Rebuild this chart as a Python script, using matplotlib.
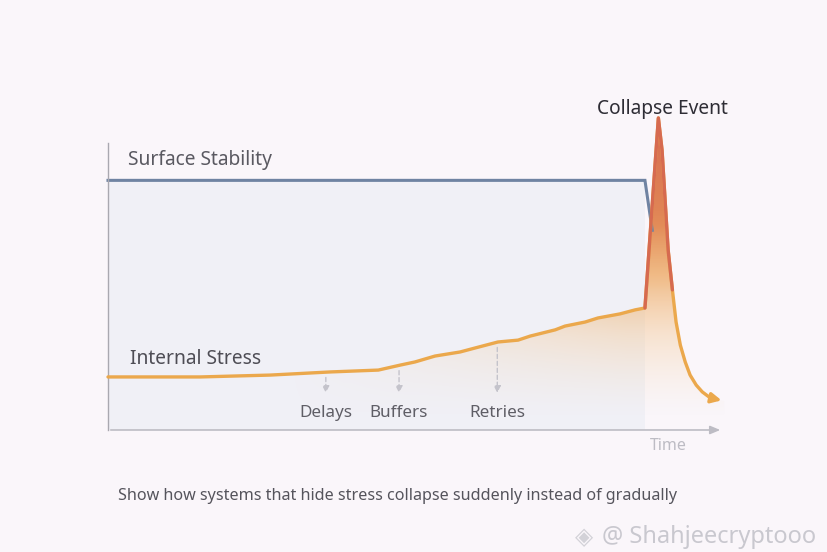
import numpy as np
import matplotlib
matplotlib.use("Agg")
import matplotlib.pyplot as plt
from matplotlib.patches import Polygon
from matplotlib.colors import to_rgb

plt.rcParams['font.family'] = ['Noto Sans', 'DejaVu Sans']

# ---- data (time 0..100, level 0..100) ----
stability_t = [0, 88.0, 89.2]
stability_v = [80, 80, 64]

stress_t = [0, 15.1, 26.6, 36.4, 44.3, 47.9, 50.3, 53.6, 57.7, 60.2, 63.9, 67.2,
            69.2, 73.3, 74.9, 78.2, 80.3, 83.9, 86.4, 88.0, 90.2, 90.8, 91.3,
            91.8, 92.5, 93.1, 93.8, 94.6, 95.4, 96.4, 97.4, 98.7, 101.0]
stress_v = [17.0, 17.0, 17.6, 18.6, 19.2, 20.8, 21.8, 23.7, 25.0, 26.3, 28.2, 28.8,
            30.1, 32.1, 33.3, 34.6, 35.9, 37.2, 38.5, 39.1, 100, 89.7, 73.7,
            57.7, 44.9, 34.6, 27.2, 21.8, 17.6, 14.4, 12.2, 10.3, 9.3]
peak_idx = 20

markers = ["Delays", "Buffers", "Retries"]
marker_t = [35.7, 47.7, 63.8]

BG = '#faf6fa'
BLUE = '#6f83a2'
ORANGE = '#eba84c'
RED = '#d66a50'
GRAY = '#c4c3cb'

fig = plt.figure(figsize=(8.28, 5.52), dpi=100, facecolor=BG)
ax = fig.add_axes([0, 0, 1, 1])
ax.set_facecolor(BG)
ax.set_xlim(-17.7, 118.0)
ax.set_ylim(-39.1, 137.8)
ax.axis('off')

# pale region under surface stability
ax.fill_between(stability_t[:2], stability_v[:2], 0, color='#f0f0f6', lw=0, zorder=1)

# gradient under internal stress
ts = np.array(stress_t)
vs = np.array(stress_v)
ny, nx = 300, 400
gx = np.linspace(0, 102, nx)
gy = np.linspace(0, 100, ny)
GX, GY = np.meshgrid(gx, gy)
stops_v = [0, 30, 50, 70, 100]
stops_c = [to_rgb('#f8dcbb'), to_rgb('#f4c690'), to_rgb('#eda862'),
           to_rgb('#e08556'), to_rgb(RED)]
img = np.zeros((ny, nx, 4))
for k in range(3):
    img[..., k] = np.interp(GY, stops_v, [c[k] for c in stops_c])
alpha = np.clip((GY - 4) / 42, 0, 1) ** 1.2
alpha *= np.clip((GX - 30) / 55, 0, 1) ** 0.8 * 0.7 + np.clip((GY - 45) / 20, 0, 1) * 0.3
img[..., 3] = np.clip(alpha, 0, 1)
poly = Polygon(list(zip(ts, vs)) + [(ts[-1], 0), (0, 0)], closed=True,
               transform=ax.transData, facecolor='none', edgecolor='none')
ax.add_patch(poly)
im = ax.imshow(img, extent=(0, 102, 0, 100), origin='lower', aspect='auto',
               zorder=2, interpolation='bilinear')
im.set_clip_path(poly)

# stability line
ax.plot(stability_t, stability_v, color=BLUE, lw=2.2, zorder=3,
        solid_joinstyle='miter')

# stress line: orange body, red spike
ax.plot(ts[:-1], vs[:-1], color=ORANGE, lw=2.4, zorder=4,
        solid_joinstyle='round', solid_capstyle='round')
ax.plot(ts[peak_idx - 1:peak_idx + 5], vs[peak_idx - 1:peak_idx + 5], color=RED,
        lw=2.4, zorder=4, solid_joinstyle='round', solid_capstyle='round')
ax.annotate('', xy=(ts[-1], vs[-1]), xytext=(ts[-2], vs[-2]),
            arrowprops=dict(arrowstyle='-|>,head_length=0.6,head_width=0.3',
                            color=ORANGE, lw=2.4), zorder=4)

# axes
ax.plot([0, 0], [0, 92], color='#a9a8b0', lw=1.0, zorder=3)
ax.annotate('', xy=(100.8, 0), xytext=(0, 0),
            arrowprops=dict(arrowstyle='-|>,head_length=0.6,head_width=0.25',
                            color='#bdbcc4', lw=1.2), zorder=3)
ax.text(91.8, -5.0, 'Time', color='#bdbcc4', fontsize=11.5, ha='center', va='center')

# marker annotations
for name, t in zip(markers, marker_t):
    v0 = np.interp(t, ts, vs)
    ax.annotate('', xy=(t, 11.0), xytext=(t, v0 - 0.8),
                arrowprops=dict(arrowstyle='-|>,head_length=0.4,head_width=0.2',
                                color=GRAY, lw=1.0, linestyle=(0, (3, 2))), zorder=3)
    ax.text(t, 5.4, name, color='#5f5e66', fontsize=12.3, ha='center', va='center')

# labels
ax.text(3.3, 86.4, 'Surface Stability', color='#5a5961', fontsize=13.8,
        ha='left', va='center')
ax.text(3.6, 22.6, 'Internal Stress', color='#4e4d55', fontsize=13.8,
        ha='left', va='center')
ax.text(90.8, 102.8, 'Collapse Event', color='#2e2d35', fontsize=13.8,
        ha='center', va='center')

ax.text(1.6, -21.0, 'Show how systems that hide stress collapse suddenly instead of gradually',
        color='#55545c', fontsize=11.6, ha='left', va='center')
ax.text(76.5, -34.2, '◈', family='DejaVu Sans', color='#d3d2d8', fontsize=17,
        ha='left', va='center')
ax.text(81.0, -34.2, '@ Shahjeecryptooo', color='#c9c8cf', fontsize=17,
        ha='left', va='center')

fig.savefig('out.png', dpi=100, facecolor=BG)
